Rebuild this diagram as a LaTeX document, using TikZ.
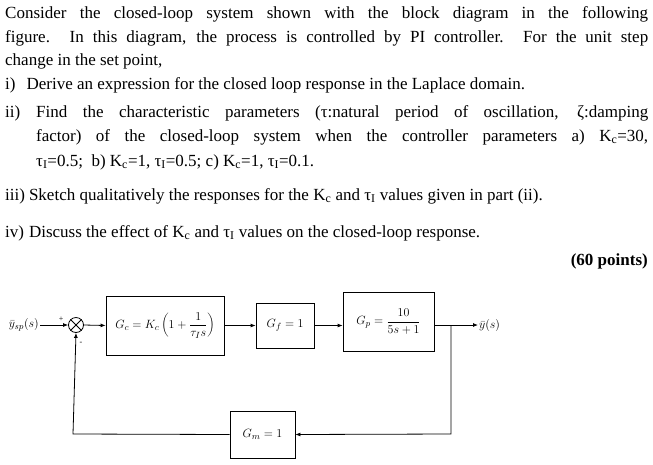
\documentclass[tikz,border=0pt]{standalone}
\usepackage{fontspec}
\setmainfont{Liberation Serif}
\usetikzlibrary{arrows.meta}
\newcommand{\fullline}[1]{\makebox[643pt][s]{#1}}
\begin{document}
\begin{tikzpicture}[x=1pt,y=-1pt,
 txt/.style={anchor=base west,inner sep=0,font=\fontsize{17}{20}\selectfont},
 blk/.style={draw,line width=0.8pt,inner sep=0,font=\fontsize{13}{15}\selectfont},
 con/.style={line width=0.8pt,-{Latex[length=5pt,width=4pt]}}]
\useasboundingbox (0,0) rectangle (653,464);
\node[txt] (l1) at (5,18) {\fullline{Consider the closed-loop system shown with the block diagram in the following}};
\node[txt] (l2) at (5,42) {\fullline{figure. In this diagram, the process is controlled by PI controller. For the unit step}};
\node[txt] (l3) at (5,65) {change in the set point,};
\node[txt] (l4) at (5,89) {i)\hspace{11pt}Derive an expression for the closed loop response in the Laplace domain.};
\node[txt] (l5) at (5,117) {ii)};
\node[txt] (l5b) at (36,117) {\makebox[612pt][s]{Find the characteristic parameters (τ:natural period of oscillation, ζ:damping}};
\node[txt] (l6) at (36,141) {\makebox[612pt][s]{factor) of the closed-loop system when the controller parameters a) K\textsubscript{c}=30,}};
\node[txt] (l7) at (36,166) {τ\textsubscript{I}=0.5;\ \ b) K\textsubscript{c}=1, τ\textsubscript{I}=0.5; c) K\textsubscript{c}=1, τ\textsubscript{I}=0.1.};
\node[txt] (l8) at (5,200) {iii)\hspace{4pt}Sketch qualitatively the responses for the K\textsubscript{c} and τ\textsubscript{I} values given in part (ii).};
\node[txt] (l9) at (5,237) {iv)\hspace{5pt}Discuss the effect of K\textsubscript{c} and τ\textsubscript{I} values on the closed-loop response.};
\node[txt,anchor=base east,font=\fontsize{17}{20}\selectfont\bfseries] (pts) at (648,265) {(60 points)};

\node[anchor=east,inner sep=1pt,font=\fontsize{13}{15}\selectfont] (ysp) at (40,325) {$\bar y_{sp}(s)$};
\node[draw,circle,minimum size=15pt,inner sep=0,line width=0.8pt] (sum) at (76,325) {};
\draw[line width=0.8pt] (sum.north west)--(sum.south east) (sum.north east)--(sum.south west);
\node[blk,minimum width=118pt,minimum height=59pt] (gc) at (165,325.5) {$\displaystyle G_c = K_c\left(1+\frac{1}{\tau_I s}\right)$};
\node[blk,minimum width=58pt,minimum height=45pt] (gf) at (285,325.5) {$G_f=1$};
\node[blk,minimum width=91pt,minimum height=59pt] (gp) at (388.5,321.5) {$\displaystyle G_p=\frac{10}{5s+1}$};
\node[blk,minimum width=65pt,minimum height=47pt] (gm) at (262.5,434.5) {$G_m=1$};
\node[anchor=west,inner sep=1pt,font=\fontsize{13}{15}\selectfont] (y) at (478,325) {$\bar y(s)$};
\coordinate (br) at (451,325);
\coordinate (c1) at (451,434);
\coordinate (c2) at (73,434);
\draw[con] (ysp.east) -- (sum.west) node[pos=0.75,above=0pt,font=\footnotesize] {+};
\draw[con] (sum.east) -- (gc.west);
\draw[con] (gc.east) -- (gf.west);
\draw[con] (gf.east) -- (gp.west|-gf.east);
\draw[con] (gp.east|-br) -- (y.west);
\draw[con] (br) -- (c1) -- (gm.east);
\draw[con] (gm.west) -- (c2) -- (sum.south);
\node[font=\footnotesize] (minus) at (81,343) {-};
\end{tikzpicture}
\end{document}
